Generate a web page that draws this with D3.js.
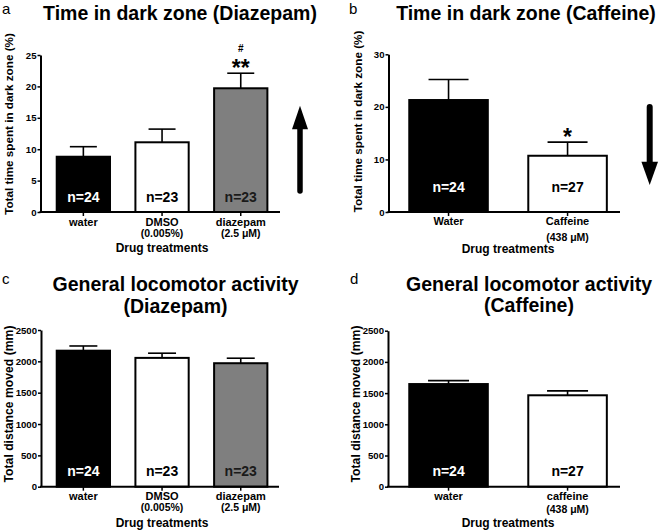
<!DOCTYPE html>
<html>
<head>
<meta charset="utf-8">
<script src="https://cdn.jsdelivr.net/npm/d3@7"></script>
<style>
  body { margin: 0; background: #fff; }
  svg text { font-family: "Liberation Sans", Arial, Helvetica, sans-serif; font-weight: bold; }
</style>
</head>
<body>
<svg id="chart" width="660" height="532"></svg>
<script>
// Group labels, one entry per text line
const diazepamGroups = [['water'], ['DMSO', '(0.005%)'], ['diazepam', '(2.5 μM)']];
const caffeineGroupsDark = [['Water'], ['Caffeine', '(438 μM)']];
const caffeineGroupsLoco = [['water'], ['caffeine', '(438 μM)']];
const diazepamN = [24, 23, 23];
const caffeineN = [24, 27];
const diazepamFills = ['#000', '#fff', '#7f7f7f'];
const caffeineFills = ['#000', '#fff'];

// Time in dark zone (%), mean and SEM
const darkDiazepamMean = [8.8, 11.1, 19.7];
const darkDiazepamSem = [1.6, 2.1, 2.4];
const darkCaffeineMean = [21.3, 10.7];
const darkCaffeineSem = [3.9, 2.6];

// Total distance moved (mm), mean and SEM
const locoDiazepamMean = [2170, 2055, 1970];
const locoDiazepamSem = [75, 75, 80];
const locoCaffeineMean = [1645, 1465];
const locoCaffeineSem = [55, 70];

// Significance marks
const darkDiazepamStars = ['', '', '**'];
const darkDiazepamHash = ['', '', '#'];
const darkCaffeineStars = ['', '*'];

// Tick values
const darkDiazepamTicks = [0, 5, 10, 15, 20, 25];
const darkCaffeineTicks = [0, 10, 20, 30];
const locoTicks = [0, 500, 1000, 1500, 2000, 2500];

const svg = d3.select('#chart');

function drawPanel(p) {
  const g = svg.append('g');
  const y = d3.scaleLinear().domain([0, p.yMax]).range([p.bottom, p.top]);
  const x = d3.scaleBand()
    .domain(d3.range(p.means.length))
    .range(p.bandRange)
    .padding(p.padding);
  const cx = (i) => x(i) + x.bandwidth() / 2;

  // panel letter
  g.append('text')
    .attr('x', p.letter[1]).attr('y', p.letter[2])
    .style('font-weight', 'normal').style('font-size', '15px')
    .text(p.letter[0]);

  // title
  g.append('text')
    .attr('text-anchor', 'middle')
    .style('font-size', '19.5px')
    .selectAll('tspan').data(p.title).join('tspan')
    .attr('x', p.titleX).attr('y', (d, i) => p.titleY[i])
    .text(d => d);

  // y axis title
  g.append('text')
    .attr('transform', `translate(${p.yLabelX},${p.yLabelY}) rotate(-90)`)
    .attr('text-anchor', 'middle')
    .style('font-size', p.yLabelSize + 'px')
    .text(p.yLabel);

  // error bars (upper only)
  const err = g.append('g').attr('stroke', '#000').attr('stroke-width', 1.6);
  p.means.forEach((m, i) => {
    const top = y(m + p.sems[i]);
    err.append('line').attr('x1', cx(i)).attr('x2', cx(i)).attr('y1', y(m)).attr('y2', top);
    err.append('line').attr('x1', cx(i) - p.capHalf).attr('x2', cx(i) + p.capHalf).attr('y1', top).attr('y2', top);
  });

  // bars
  g.selectAll('rect.bar').data(p.means).join('rect')
    .attr('class', 'bar')
    .attr('x', (d, i) => x(i))
    .attr('width', x.bandwidth())
    .attr('y', d => y(d))
    .attr('height', d => p.bottom - y(d))
    .attr('fill', (d, i) => p.fills[i])
    .attr('stroke', '#000')
    .attr('stroke-width', 2);

  // n labels inside bars
  g.selectAll('text.n').data(p.ns).join('text')
    .attr('class', 'n')
    .attr('x', (d, i) => cx(i))
    .attr('y', p.nY)
    .attr('text-anchor', 'middle')
    .style('font-size', '14px')
    .attr('fill', (d, i) => p.fills[i] === '#000' ? '#fff' : (p.fills[i] === '#fff' ? '#000' : '#1a1a1a'))
    .text(d => 'n=' + d);

  // significance marks
  if (p.stars) {
    g.selectAll('text.star').data(p.stars).join('text')
      .attr('class', 'star')
      .attr('x', (d, i) => cx(i))
      .attr('y', (d, i) => y(p.means[i] + p.sems[i]) + 2.5)
      .attr('text-anchor', 'middle')
      .style('font-size', '23px')
      .text(d => d);
  }
  if (p.hash) {
    g.selectAll('text.hash').data(p.hash).join('text')
      .attr('class', 'hash')
      .attr('x', (d, i) => cx(i))
      .attr('y', (d, i) => y(p.means[i] + p.sems[i]) - 21.5)
      .attr('text-anchor', 'middle')
      .style('font-size', '10px')
      .text(d => d);
  }

  // y axis
  const yAxis = g.append('g')
    .attr('transform', `translate(${p.left},0)`)
    .call(d3.axisLeft(y).tickValues(p.ticks).tickFormat(d3.format('d'))
      .tickSize(3).tickPadding(1).tickSizeOuter(0));
  yAxis.select('.domain').attr('stroke-width', 2);
  yAxis.selectAll('.tick line').attr('stroke-width', 1.5);
  yAxis.selectAll('.tick text')
    .attr('fill', '#000')
    .style('font-size', '9.6px')
    .style('font-family', '"Liberation Sans", Arial, sans-serif');

  // x axis baseline and ticks
  g.append('line')
    .attr('x1', p.left - 1).attr('x2', p.axisEnd)
    .attr('y1', p.bottom).attr('y2', p.bottom)
    .attr('stroke', '#000').attr('stroke-width', 2);
  const xAxis = g.append('g')
    .attr('transform', `translate(0,${p.bottom})`)
    .call(d3.axisBottom(x).tickSize(4).tickFormat(''));
  xAxis.select('.domain').remove();
  xAxis.selectAll('.tick line').attr('stroke-width', 1.5);

  // group labels
  p.groups.forEach((lines, i) => {
    g.append('text')
      .attr('text-anchor', 'middle')
      .selectAll('tspan').data(lines).join('tspan')
      .attr('x', cx(i))
      .attr('y', (d, j) => p.labelY + j * p.lineGap)
      .style('font-size', (d, j) => j === 0 ? '11px' : '10.5px')
      .text(d => d);
  });

  g.append('text')
    .attr('x', (cx(0) + cx(p.means.length - 1)) / 2)
    .attr('y', p.drugY)
    .attr('text-anchor', 'middle')
    .style('font-size', '12px')
    .text('Drug treatments');

  return g;
}

function drawArrow(g, ax, yTail, yTip, headW, headH, shaftW) {
  const dir = yTip < yTail ? -1 : 1;
  const yBase = yTip - dir * headH;
  g.append('line')
    .attr('x1', ax).attr('x2', ax)
    .attr('y1', yTail).attr('y2', yBase)
    .attr('stroke', '#000').attr('stroke-width', shaftW)
    .attr('stroke-linecap', 'round');
  g.append('path')
    .attr('d', d3.line()([[ax - headW / 2, yBase], [ax, yTip], [ax + headW / 2, yBase]]) + 'Z')
    .attr('fill', '#000');
}

const panelA = drawPanel({
  letter: ['a', 2, 13.5],
  title: ['Time in dark zone (Diazepam)'], titleX: 180, titleY: [20],
  yLabel: 'Total time spent in dark zone (%)', yLabelX: 13, yLabelY: 124, yLabelSize: 11.7,
  left: 40.5, axisEnd: 280, top: 55, bottom: 212, yMax: 25, ticks: darkDiazepamTicks,
  bandRange: [31.3, 292.8], padding: 0.323, capHalf: 13.5,
  means: darkDiazepamMean, sems: darkDiazepamSem, ns: diazepamN, fills: diazepamFills,
  groups: diazepamGroups, labelY: 226, lineGap: 10.5, drugY: 252, nY: 201.7,
  stars: darkDiazepamStars, hash: darkDiazepamHash
});
drawArrow(panelA, 300, 191, 105.7, 16, 23.5, 5.5);

const panelB = drawPanel({
  letter: ['b', 349, 13.5],
  title: ['Time in dark zone (Caffeine)'], titleX: 526, titleY: [20],
  yLabel: 'Total time spent in dark zone (%)', yLabelX: 361.5, yLabelY: 121.5, yLabelSize: 11.7,
  left: 388.5, axisEnd: 620, top: 54.3, bottom: 212, yMax: 30, ticks: darkCaffeineTicks,
  bandRange: [368.8, 647.3], padding: 0.34, capHalf: 20,
  means: darkCaffeineMean, sems: darkCaffeineSem, ns: caffeineN, fills: caffeineFills,
  groups: caffeineGroupsDark, labelY: 225, lineGap: 15.5, drugY: 253.3, nY: 191.7,
  stars: darkCaffeineStars
});
drawArrow(panelB, 649.7, 107, 185, 16.6, 23.3, 6);

drawPanel({
  letter: ['c', 2, 283.5],
  title: ['General locomotor activity', '(Diazepam)'], titleX: 175.5, titleY: [291, 313.3],
  yLabel: 'Total distance moved (mm)', yLabelX: 13, yLabelY: 404, yLabelSize: 12.2,
  left: 41, axisEnd: 279, top: 330, bottom: 486.7, yMax: 2500, ticks: locoTicks,
  bandRange: [31.3, 292.8], padding: 0.323, capHalf: 14,
  means: locoDiazepamMean, sems: locoDiazepamSem, ns: diazepamN, fills: diazepamFills,
  groups: diazepamGroups, labelY: 500, lineGap: 10.7, drugY: 526.7, nY: 476
});

drawPanel({
  letter: ['d', 350, 283.5],
  title: ['General locomotor activity', '(Caffeine)'], titleX: 529, titleY: [291, 312],
  yLabel: 'Total distance moved (mm)', yLabelX: 360, yLabelY: 404, yLabelSize: 12.2,
  left: 388, axisEnd: 620, top: 330.7, bottom: 486.7, yMax: 2500, ticks: locoTicks,
  bandRange: [368.8, 647.3], padding: 0.34, capHalf: 20.5,
  means: locoCaffeineMean, sems: locoCaffeineSem, ns: caffeineN, fills: caffeineFills,
  groups: caffeineGroupsLoco, labelY: 500, lineGap: 13.3, drugY: 526.7, nY: 476
});
</script>
</body>
</html>
